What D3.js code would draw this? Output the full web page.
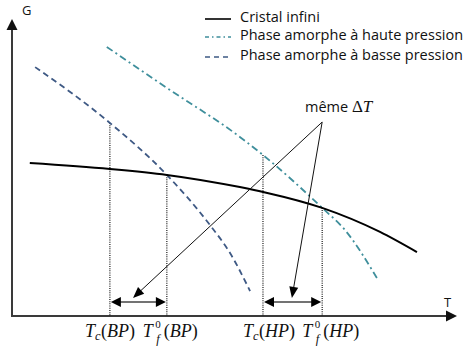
<!DOCTYPE html>
<html><head><meta charset="utf-8">
<script src="https://cdn.jsdelivr.net/npm/d3@7"></script>
<style>
body{margin:0;background:#fff;}
svg{display:block;}
</style></head>
<body>
<svg id="c" width="474" height="348"></svg>
<script>
// ---- data (abstract units, T horizontal, G vertical) ----
const crystalT = [4.0, 22.0, 34.8, 51.2, 56.9, 69.7, 82.7, 91.0];
const crystalG = [51.5, 49.5, 47.5, 43.4, 41.6, 36.4, 28.3, 21.5];
const bpT = [5.2, 22.0, 34.8, 44.5, 49.0, 53.5];
const bpG = [83.8, 65.0, 47.5, 30.6, 21.2, 8.4];
const hpT = [21.3, 34.8, 51.2, 56.4, 69.7, 74.8, 82.0];
const hpG = [90.6, 76.8, 60.3, 54.2, 36.4, 29.0, 12.8];
const markerNames = ["Tc(BP)", "Tf0(BP)", "Tc(HP)", "Tf0(HP)"];
const markerT = [22.0, 34.8, 56.4, 69.7];
const markerTopG = [65.0, 47.5, 54.2, 36.4];
const intervalPairs = [[0, 1], [2, 3]];
const intervalG = 4.7;
const noteApex = [69.7, 65.3];
const noteTargets = [[27.2, 6.1], [62.9, 6.1]];
const legendLabels = ["Cristal infini", "Phase amorphe à haute pression", "Phase amorphe à basse pression"];
const axisLabels = ["G", "T"];
const noteLabel = ["même ", "ΔT"];

const SANS = '"Open Sans", sans-serif';
const SERIF = '"Liberation Serif", serif';

const svg = d3.select("#c");
const x = d3.scaleLinear().domain([0, 100]).range([12, 457]);
const y = d3.scaleLinear().domain([0, 100]).range([316, 19]);

const line = d3.line().x(d => x(d[0])).y(d => y(d[1])).curve(d3.curveMonotoneX);
const zip = (a, b) => a.map((v, i) => [v, b[i]]);

function arrowHead(tipX, tipY, fromX, fromY, len, half, color) {
  const a = Math.atan2(tipY - fromY, tipX - fromX);
  const bx = tipX - len * Math.cos(a), by = tipY - len * Math.sin(a);
  const px = -Math.sin(a) * half, py = Math.cos(a) * half;
  svg.append("path")
    .attr("d", `M${tipX},${tipY}L${bx + px},${by + py}L${bx - px},${by - py}Z`)
    .attr("fill", color);
}
function txt(sel, family, size, italic) {
  return sel.attr("font-family", family).attr("font-size", size)
    .attr("font-style", italic ? "italic" : "normal").attr("fill", "#111");
}

// axes
const axisColor = "#3a3a3a";
svg.append("line").attr("x1", x(0)).attr("y1", y(0)).attr("x2", x(100) - 8).attr("y2", y(0))
  .attr("stroke", axisColor).attr("stroke-width", 2);
svg.append("line").attr("x1", x(0)).attr("y1", y(0) + 1).attr("x2", x(0)).attr("y2", y(100) + 8)
  .attr("stroke", axisColor).attr("stroke-width", 2);
arrowHead(x(100), y(0), x(0), y(0), 11, 5.5, "#111");
arrowHead(x(0), y(100), x(0), y(0), 11, 5.5, "#111");
txt(svg.append("text"), SANS, 13, false).attr("x", 22).attr("y", 15).text(axisLabels[0]);
txt(svg.append("text"), SANS, 13, false).attr("x", 444).attr("y", 307).text(axisLabels[1]);

// dotted verticals
markerT.forEach((t, i) => {
  svg.append("line").attr("x1", x(t)).attr("x2", x(t)).attr("y1", y(markerTopG[i])).attr("y2", y(0))
    .attr("stroke", "#000").attr("stroke-width", 1.1).attr("stroke-dasharray", "1,1.2");
});

// curves
svg.append("path").attr("d", line(zip(hpT, hpG))).attr("fill", "none")
  .attr("stroke", "#3f8f9c").attr("stroke-width", 1.8).attr("stroke-dasharray", "7,3.5,2,3.5");
svg.append("path").attr("d", line(zip(bpT, bpG))).attr("fill", "none")
  .attr("stroke", "#3e5984").attr("stroke-width", 1.8).attr("stroke-dasharray", "6,4");
svg.append("path").attr("d", line(zip(crystalT, crystalG))).attr("fill", "none")
  .attr("stroke", "#000").attr("stroke-width", 2);

// interval double arrows
intervalPairs.forEach(([a, b]) => {
  const x1 = x(markerT[a]), x2 = x(markerT[b]), yy = y(intervalG);
  svg.append("line").attr("x1", x1 + 6).attr("x2", x2 - 6).attr("y1", yy).attr("y2", yy)
    .attr("stroke", "#444").attr("stroke-width", 1.6);
  arrowHead(x1 + 1, yy, x2, yy, 10, 5, "#000");
  arrowHead(x2 - 1, yy, x1, yy, 10, 5, "#000");
});

// annotation lines
noteTargets.forEach(tg => {
  const ax = x(noteApex[0]), ay = y(noteApex[1]), tx = x(tg[0]), ty = y(tg[1]);
  const a = Math.atan2(ty - ay, tx - ax);
  svg.append("line").attr("x1", ax).attr("y1", ay)
    .attr("x2", tx - 8 * Math.cos(a)).attr("y2", ty - 8 * Math.sin(a))
    .attr("stroke", "#111").attr("stroke-width", 1);
  arrowHead(tx, ty, ax, ay, 11, 4.5, "#000");
});
const nt = svg.append("text").attr("x", 305).attr("y", 112);
txt(nt.append("tspan"), SANS, 14.5, false).text(noteLabel[0]);
txt(nt.append("tspan"), SERIF, 17, false).text(noteLabel[1][0]);
txt(nt.append("tspan"), SERIF, 17, true).text(noteLabel[1].slice(1));

// marker labels
const labelLeft = [-25, -24, -20, -20];
markerNames.forEach((name, i) => {
  const m = name.match(/^T(c|f0)\((\w+)\)$/);
  const x0 = x(markerT[i]) + labelLeft[i];
  const yb = 337;
  let px;
  if (m[1] === "c") {
    txt(svg.append("text"), SERIF, 18, true).attr("x", x0).attr("y", yb).text("T");
    txt(svg.append("text"), SERIF, 12.5, true).attr("x", x0 + 10).attr("y", yb + 3).text("c");
    px = x0 + 16;
  } else {
    txt(svg.append("text"), SERIF, 18, true).attr("x", x0).attr("y", yb).text("T");
    txt(svg.append("text"), SERIF, 11, false).attr("x", x0 + 12.5).attr("y", yb - 9).text("0");
    txt(svg.append("text"), SERIF, 12.5, true).attr("x", x0 + 13.5).attr("y", yb + 6).text("f");
    px = x0 + 21;
  }
  const t = svg.append("text").attr("x", px).attr("y", yb);
  txt(t.append("tspan"), SERIF, 18, false).text("(");
  txt(t.append("tspan"), SERIF, 18, true).text(m[2]);
  txt(t.append("tspan"), SERIF, 18, false).text(")");
});

// legend
const legStyles = [
  {c: "#000", d: null, w: 1.6},
  {c: "#3f8f9c", d: "4,3,1.5,3", w: 1.4},
  {c: "#3e5984", d: "5,4", w: 1.4}
];
const legY = [19, 37, 57];
legendLabels.forEach((lab, i) => {
  svg.append("line").attr("x1", 205).attr("x2", 231).attr("y1", legY[i]).attr("y2", legY[i])
    .attr("stroke", legStyles[i].c).attr("stroke-width", legStyles[i].w)
    .attr("stroke-dasharray", legStyles[i].d);
  txt(svg.append("text"), SANS, 14.5, false).attr("x", 240).attr("y", legY[i] + 3).text(lab);
});
</script>
</body></html>
